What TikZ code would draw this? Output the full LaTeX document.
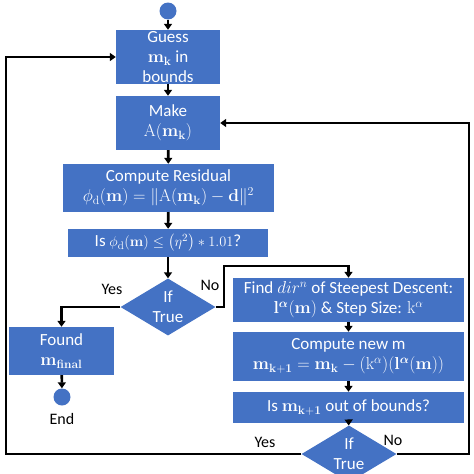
\documentclass[tikz,border=0pt]{standalone}
\usepackage{amsmath}
\usepackage[no-math]{fontspec}
\setmainfont{Carlito}
\usetikzlibrary{shapes.geometric,arrows.meta}
\definecolor{boxblue}{HTML}{4472C4}
\newcommand{\smallmth}[1]{{\fontsize{15.5}{19}\selectfont$#1$}}

\begin{document}
\begin{tikzpicture}[x=1pt,y=-1pt,
  font=\fontsize{17}{20}\selectfont,
  blk/.style={rectangle,fill=boxblue,text=white,align=center,inner sep=0pt},
  dec/.style={diamond,fill=boxblue,text=white,align=center,inner sep=0pt,aspect=1.7,minimum width=95,minimum height=57},
  term/.style={circle,fill=boxblue,inner sep=0pt,minimum size=17},
  lbl/.style={font=\fontsize{16}{19}\selectfont},
  arr/.style={line width=2.6pt,-{Triangle[width=8pt,length=6pt]}}]
\useasboundingbox (0,0) rectangle (474,474);
\clip (0,0) rectangle (474,474);

\node[term] (start) at (168,11) {};
\node[blk,minimum width=104,minimum height=54] (guess) at (168,57) {Guess\\$\mathbf{m_k}$ in\\bounds};
\node[blk,minimum width=104,minimum height=54] (make) at (168,123) {Make\\$\mathrm{A}(\mathbf{m_k})$};
\node[blk,minimum width=211,minimum height=48] (resid) at (168.5,188) {Compute Residual\\$\phi_{\mathrm{d}}(\mathbf{m}) = \|\mathrm{A}(\mathbf{m_k}) - \mathbf{d}\|^2$};
\node[blk,minimum width=200,minimum height=28] (test) at (168,243) {Is \smallmth{\phi_{\mathrm{d}}(\mathbf{m}) \le \left(\eta^2\right) * 1.01}?};
\node[dec] (if1) at (168,307) {If\\True};
\node[blk,minimum width=105,minimum height=48] (found) at (61.5,351) {Found\\$\mathbf{m_{final}}$};
\node[term] (endc) at (62,397) {};
\node[lbl] (endlbl) at (62,419) {End};

\node[blk,minimum width=231,minimum height=44] (find) at (348.5,300) {Find $dir^n$ of Steepest Descent:\\$\mathbf{l}^{\boldsymbol{\alpha}}(\mathbf{m})$ \& Step Size: $\mathrm{k}^{\alpha}$};
\node[blk,minimum width=231,minimum height=49] (newm) at (348.5,356.5) {Compute new m\\$\mathbf{m_{k+1}} = \mathbf{m_k} - (\mathrm{k}^{\alpha})(\mathbf{l}^{\boldsymbol{\alpha}}(\mathbf{m}))$};
\node[blk,minimum width=231,minimum height=31] (bounds) at (348.5,407.5) {Is $\mathbf{m_{k+1}}$ out of bounds?};
\node[dec] (if2) at (349,454) {If\\True};

\node[lbl] (yes1) at (112,289) {Yes};
\node[lbl] (no1) at (210,285) {No};
\node[lbl] (yes2) at (265,442) {Yes};
\node[lbl] (no2) at (393,440) {No};

\coordinate (nojog) at (224,266);
\coordinate (lloop) at (6,57);
\coordinate (rloop) at (469,123);

\draw[arr] (start) -- (guess);
\draw[arr] (guess) -- (make);
\draw[arr] (make) -- (resid);
\draw[arr] (resid) -- (test);
\draw[arr] (test) -- (if1);
\draw[arr] (if1.west) -| (found.north);
\draw[arr] (found) -- (endc);
\draw[arr] (if1.east) -| (nojog) -| (find.north);
\draw[arr] (find) -- (newm);
\draw[arr] (newm) -- (bounds);
\draw[arr] (bounds) -- (if2);
\draw[arr] (if2.west) -| (lloop) -- (guess.west);
\draw[arr] (if2.east) -| (rloop) -- (make.east);
\end{tikzpicture}
\end{document}
